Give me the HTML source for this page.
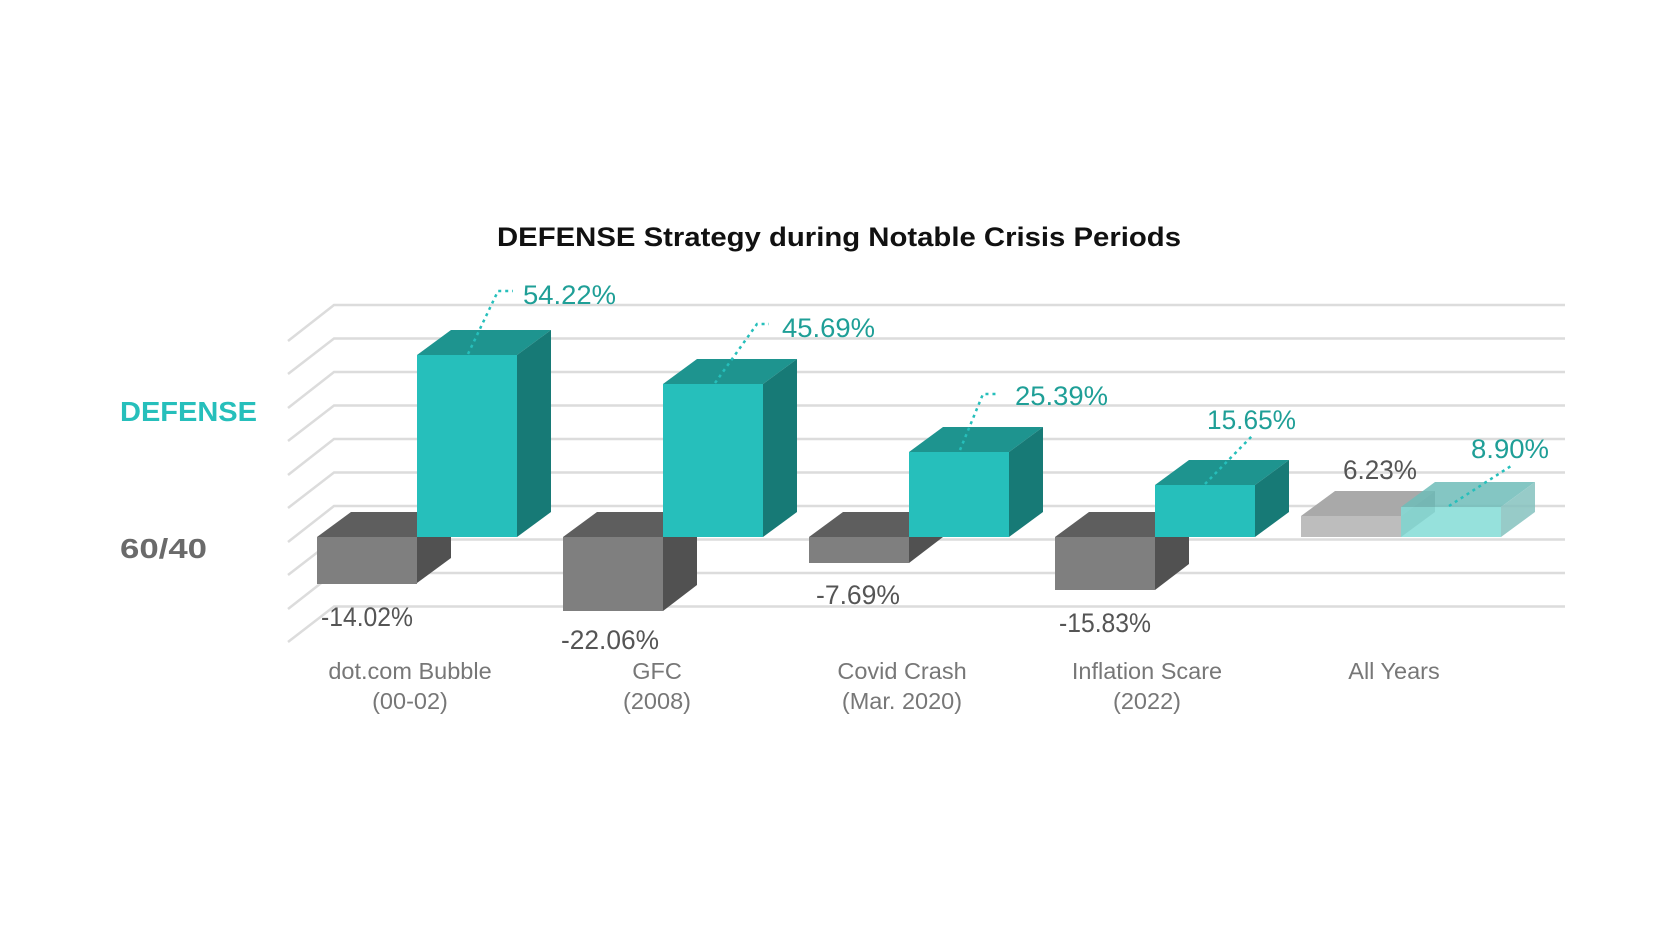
<!DOCTYPE html>
<html><head><meta charset="utf-8"><style>
html,body{margin:0;padding:0;background:#fff;}
svg{display:block;}
text{font-family:"Liberation Sans",sans-serif;}
</style></head><body>
<svg width="1680" height="945" viewBox="0 0 1680 945" xmlns="http://www.w3.org/2000/svg">
<g stroke="#dcdcdc" stroke-width="2.5" fill="none">
<path d="M288 341 L334 305 H1565"/>
<path d="M288 374 L334 338.5 H1565"/>
<path d="M288 408 L334 372 H1565"/>
<path d="M288 441 L334 405.5 H1565"/>
<path d="M288 475 L334 439 H1565"/>
<path d="M288 508 L334 472.5 H1565"/>
<path d="M288 542 L334 506 H1565"/>
<path d="M288 575 L334 539.5 H1565"/>
<path d="M288 609 L334 573 H1565"/>
<path d="M288 642 L334 606.5 H1565"/>
</g>
<text x="497" y="246" font-size="27" font-weight="bold" fill="#111" textLength="684" lengthAdjust="spacingAndGlyphs">DEFENSE Strategy during Notable Crisis Periods</text>
<text x="120" y="421" font-size="28" font-weight="bold" fill="#26bfbb" textLength="137" lengthAdjust="spacingAndGlyphs">DEFENSE</text>
<text x="120" y="558" font-size="28" font-weight="bold" fill="#6a6a6a" textLength="87" lengthAdjust="spacingAndGlyphs">60/40</text>

<polygon points="317,537 351,512 451,512 417,537" fill="#5e5e5e"/>
<polygon points="417,537 451,512 451,558 417,583" fill="#515151"/>
<rect x="317" y="537" width="100" height="47" fill="#7f7f7f"/>
<polygon points="417,355 451,330 551,330 517,355" fill="#1e948f"/>
<polygon points="517,355 551,330 551,512 517,537" fill="#177a76"/>
<rect x="417" y="355" width="100" height="182" fill="#26bfbb"/>

<polygon points="563,537 597,512 697,512 663,537" fill="#5e5e5e"/>
<polygon points="663,537 697,512 697,585 663,611" fill="#515151"/>
<rect x="563" y="537" width="100" height="74" fill="#7f7f7f"/>
<polygon points="663,384 697,359 797,359 763,384" fill="#1e948f"/>
<polygon points="763,384 797,359 797,512 763,537" fill="#177a76"/>
<rect x="663" y="384" width="100" height="153" fill="#26bfbb"/>

<polygon points="809,537 843,512 943,512 909,537" fill="#5e5e5e"/>
<polygon points="909,537 943,512 943,537 909,563" fill="#515151"/>
<rect x="809" y="537" width="100" height="26" fill="#7f7f7f"/>
<polygon points="909,452 943,427 1043,427 1009,452" fill="#1e948f"/>
<polygon points="1009,452 1043,427 1043,512 1009,537" fill="#177a76"/>
<rect x="909" y="452" width="100" height="85" fill="#26bfbb"/>

<polygon points="1055,537 1089,512 1189,512 1155,537" fill="#5e5e5e"/>
<polygon points="1155,537 1189,512 1189,564 1155,590" fill="#515151"/>
<rect x="1055" y="537" width="100" height="53" fill="#7f7f7f"/>
<polygon points="1155,485 1189,460 1289,460 1255,485" fill="#1e948f"/>
<polygon points="1255,485 1289,460 1289,512 1255,537" fill="#177a76"/>
<rect x="1155" y="485" width="100" height="52" fill="#26bfbb"/>

<polygon points="1301,516 1335,491 1435,491 1401,516" fill="#a9a9a9"/>
<polygon points="1401,516 1435,491 1435,512 1401,537" fill="#999"/>
<rect x="1301" y="516" width="100" height="21" fill="#bdbdbd"/>
<g opacity="0.85">
<polygon points="1401,507 1435,482 1535,482 1501,507" fill="#6fbdb9"/>
<polygon points="1501,507 1535,482 1535,512 1501,537" fill="#86c2bf"/>
<rect x="1401" y="507" width="100" height="30" fill="#84dcd7"/>
</g>

<g stroke="#26bfbb" stroke-width="2.5" stroke-dasharray="3,4" fill="none">
<path d="M468 354 L498 291 H513"/>
<path d="M715 383 L757 324 H769"/>
<path d="M960 450 L983 394 H997"/>
<path d="M1205 484 L1253 435"/>
<path d="M1449 506 L1511 466"/>
</g>
<g font-size="27" fill="#1f9f97">
<text x="523" y="304" textLength="93" lengthAdjust="spacingAndGlyphs">54.22%</text>
<text x="782" y="337" textLength="93" lengthAdjust="spacingAndGlyphs">45.69%</text>
<text x="1015" y="405" textLength="93" lengthAdjust="spacingAndGlyphs">25.39%</text>
<text x="1207" y="429" textLength="89" lengthAdjust="spacingAndGlyphs">15.65%</text>
<text x="1471" y="458" textLength="78" lengthAdjust="spacingAndGlyphs">8.90%</text>
</g>
<g font-size="27" fill="#555">
<text x="1343" y="479" textLength="74" lengthAdjust="spacingAndGlyphs">6.23%</text>
<text x="321" y="626" textLength="92" lengthAdjust="spacingAndGlyphs">-14.02%</text>
<text x="561" y="649" textLength="98" lengthAdjust="spacingAndGlyphs">-22.06%</text>
<text x="816" y="604" textLength="84" lengthAdjust="spacingAndGlyphs">-7.69%</text>
<text x="1059" y="632" textLength="92" lengthAdjust="spacingAndGlyphs">-15.83%</text>
</g>
<g font-size="23.5" fill="#777" text-anchor="middle">
<text x="410" y="679">dot.com Bubble</text><text x="410" y="709">(00-02)</text>
<text x="657" y="679">GFC</text><text x="657" y="709">(2008)</text>
<text x="902" y="679">Covid Crash</text><text x="902" y="709">(Mar. 2020)</text>
<text x="1147" y="679">Inflation Scare</text><text x="1147" y="709">(2022)</text>
<text x="1394" y="679">All Years</text>
</g>
</svg>
</body></html>
